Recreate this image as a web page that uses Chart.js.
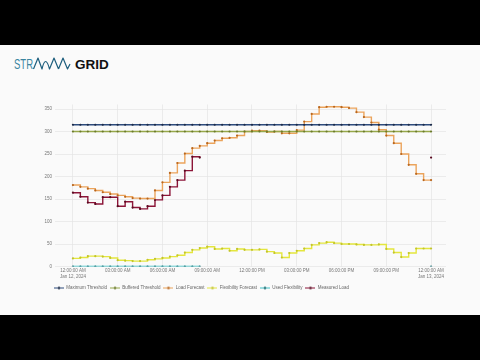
<!DOCTYPE html>
<html>
<head>
<meta charset="utf-8">
<script src="https://cdn.jsdelivr.net/npm/chart.js@4/dist/chart.umd.min.js"></script>
<style>
  html, body { margin:0; padding:0; background:#000; width:480px; height:360px; overflow:hidden; }
  #panel { position:absolute; left:0; top:45px; width:480px; height:270px; background:#fafafa; }
  #logo { position:absolute; left:12px; top:52px; }
  #c { position:absolute; left:0; top:45px; }
</style>
</head>
<body>
<div id="panel"></div>
<svg id="logo" width="110" height="24" viewBox="0 0 110 24">
  <text x="2" y="17" font-family="Liberation Sans, Arial, sans-serif" font-size="14" fill="#3a85a0" textLength="19" lengthAdjust="spacingAndGlyphs">STR</text>
  <path d="M21.5,17 L26,6 L30,17 Q33.5,2 37.5,17 L42,6 L46.5,17 M46.5,17 L51,6 L55.5,17 L58,12" fill="none" stroke="#1f5f7e" stroke-width="1.2" stroke-linejoin="round"/>
  <text x="63" y="17" font-family="Liberation Sans, Arial, sans-serif" font-size="13.5" font-weight="bold" fill="#111">GRID</text>
</svg>
<canvas id="c" width="480" height="270"></canvas>
<script>
// ---- data ----
const hours = [0,0.5,1,1.5,2,2.5,3,3.5,4,4.5,5,5.5,6,6.5,7,7.5,8,8.5,9,9.5,10,10.5,11,11.5,12,12.5,13,13.5,14,14.5,15,15.5,16,16.5,17,17.5,18,18.5,19,19.5,20,20.5,21,21.5,22,22.5,23,23.5,24];
const maximumThreshold = [315,315,315,315,315,315,315,315,315,315,315,315,315,315,315,315,315,315,315,315,315,315,315,315,315,315,315,315,315,315,315,315,315,315,315,315,315,315,315,315,315,315,315,315,315,315,315,315,315];
const bufferedThreshold = [300,300,300,300,300,300,300,300,300,300,300,300,300,300,300,300,300,300,300,300,300,300,300,300,300,300,300,300,300,300,300,300,300,300,300,300,300,300,300,300,300,300,300,300,300,300,300,300,300];
const loadForecast = [181,177,173,169,165,161,158,155,152,151,151,169,187,208,230,251,263,268,274,280,285,286,291,300,302,302,299,300,296,296,303,322,339,354,355,355,354,352,343,332,320,304,291,274,250,226,206,192,192];
const flexibilityForecast = [18,20,23,23,22,19,14,13,12,12,15,17,19,22,25,31,37,41,44,39,40,35,39,37,37,38,33,30,20,30,35,40,48,52,54,52,50,50,49,48,48,49,39,31,21,30,40,40,40];
const usedFlexibility = [0,0,0,0,0,0,0,0,0,0,0,0,0,0,0,0,0,0,null,null,null,null,null,null,null,null,null,null,null,null,null,null,null,null,null,null,null,null,null,null,null,null,null,null,null,null,null,null,0];
const measuredLoad = [164,155,142,139,154,154,134,144,131,128,134,148,158,177,192,213,244,242,null,null,null,null,null,null,null,null,null,null,null,null,null,null,null,null,null,null,null,null,null,null,null,null,null,null,null,null,null,null,242];
const xTickValues = [0,3,6,9,12,15,18,21,24];
const xTickLabels = [["12:00:00 AM","Jan 12, 2024"],"03:00:00 AM","06:00:00 AM","09:00:00 AM","12:00:00 PM","03:00:00 PM","06:00:00 PM","09:00:00 PM",["12:00:00 AM","Jan 13, 2024"]];
const yTickValues = [0,50,100,150,200,250,300,350];
const seriesNames = ["Maximum Threshold","Buffered Threshold","Load Forecast","Flexibility Forecast","Used Flexibility","Measured Load"];

// ---- styles ----
const lineColors = ['#2d4b7c','#97a84a','#eba45c','#e4e63e','#3ec1c6','#8c1538'];
const pointColors = ['#1b2a48','#6b7a2a','#b8661e','#c2c42a','#1a6f74','#5a0a20'];
const seriesData = [maximumThreshold,bufferedThreshold,loadForecast,flexibilityForecast,usedFlexibility,measuredLoad];
const FONT = 'Liberation Sans, Arial, sans-serif';

function icon(lc, pc) {
  const c = document.createElement('canvas');
  c.width = 10; c.height = 5;
  const g = c.getContext('2d');
  g.strokeStyle = lc; g.lineWidth = 1;
  g.beginPath(); g.moveTo(0, 2.5); g.lineTo(10, 2.5); g.stroke();
  g.fillStyle = pc; g.beginPath(); g.arc(5, 2.5, 1.3, 0, Math.PI*2); g.fill();
  return c;
}
const icons = lineColors.map((c,i) => icon(c, pointColors[i]));

const datasets = seriesNames.map((name, i) => ({
  label: name,
  data: hours.map((h, j) => ({x: h, y: seriesData[i][j]})),
  borderColor: lineColors[i],
  backgroundColor: pointColors[i],
  pointBackgroundColor: pointColors[i],
  pointBorderColor: pointColors[i],
  pointRadius: 1.1,
  pointBorderWidth: 0,
  borderWidth: 1.4,
  stepped: true,
  spanGaps: false,
  fill: false
}));

const legendShift = {
  id: 'legendShift',
  afterLayout(chart) { if (chart.legend) { chart.legend.left = 51; } }
};

new Chart(document.getElementById('c'), {
  type: 'line',
  data: { datasets },
  plugins: [legendShift],
  options: {
    responsive: false,
    animation: false,
    layout: { padding: { left: 0, right: 34, top: 59.5, bottom: 14.75 } },
    plugins: {
      tooltip: { enabled: false },
      legend: {
        position: 'bottom',
        align: 'start',
        labels: {
          usePointStyle: true,
          pointStyleWidth: 10,
          boxHeight: 4.5,
          padding: 3,
          color: '#666',
          font: { size: 4.5, family: FONT },
          generateLabels: (chart) => Chart.defaults.plugins.legend.labels.generateLabels(chart).map((l, i) => Object.assign(l, { pointStyle: icons[i] }))
        }
      }
    },
    scales: {
      x: {
        type: 'linear',
        min: -1.2,
        max: 25,
        afterBuildTicks: (s) => { s.ticks = xTickValues.map(v => ({ value: v })); },
        afterFit: (s) => { s.height = 16.25; },
        grid: { color: '#e4e4e4', lineWidth: 0.7, drawTicks: false },
        border: { display: false },
        ticks: {
          padding: 1.5,
          autoSkip: false,
          maxRotation: 0,
          color: '#777',
          font: { size: 4.5, family: FONT, lineHeight: 1.3 },
          callback: (v) => { const k = xTickValues.indexOf(v); return k >= 0 ? xTickLabels[k] : ''; }
        }
      },
      y: {
        min: 0,
        max: 360,
        afterBuildTicks: (s) => { s.ticks = yTickValues.map(v => ({ value: v })); },
        afterFit: (s) => { s.width = 55; },
        grid: { color: '#e4e4e4', lineWidth: 0.7, drawTicks: false },
        border: { display: false },
        ticks: {
          padding: 3,
          color: '#777',
          font: { size: 4.5, family: FONT },
          callback: (v) => String(v)
        }
      }
    }
  }
});
</script>
</body>
</html>
